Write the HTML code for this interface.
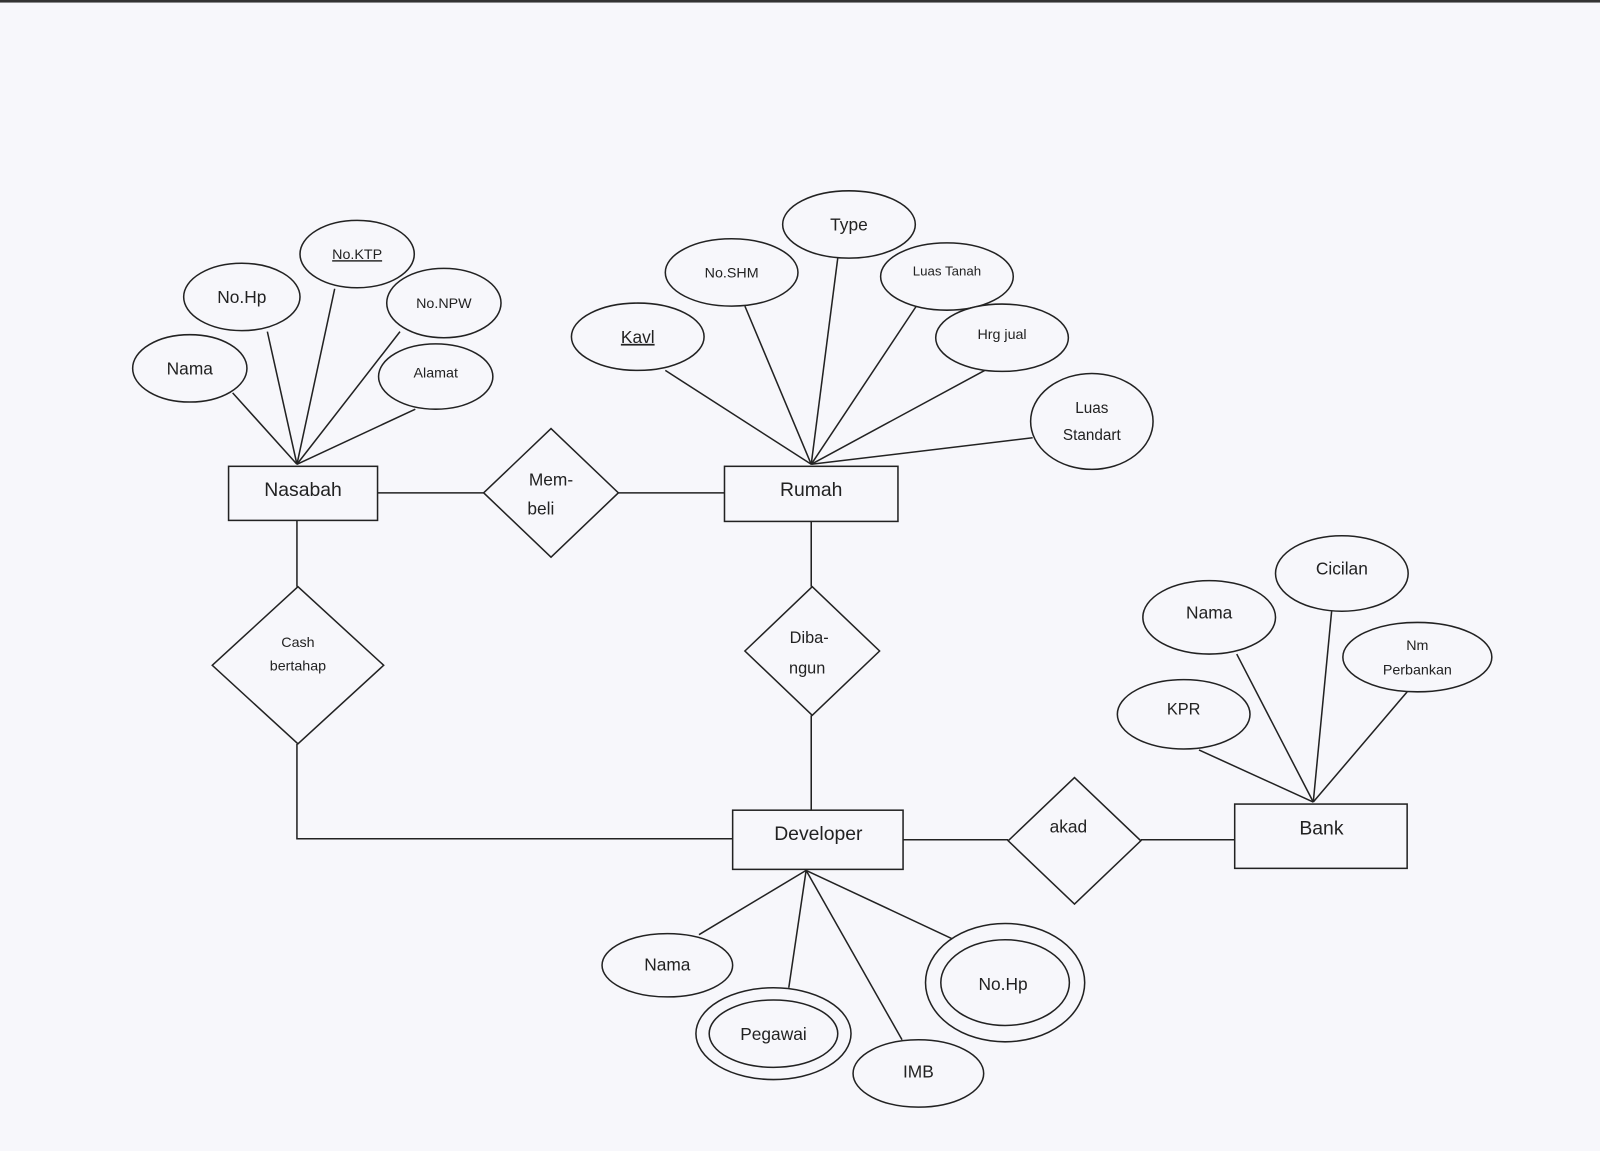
<!DOCTYPE html>
<html><head><meta charset="utf-8"><style>
html,body{margin:0;padding:0;background:#f7f7fb;}
svg{display:block;}
text{font-family:"Liberation Sans",sans-serif;fill:#222;}
</style></head><body>
<svg width="1600" height="1151" viewBox="0 0 1568 1128" preserveAspectRatio="none" xmlns="http://www.w3.org/2000/svg">
<rect x="0" y="0" width="1568" height="1128" fill="#f7f7fb"/>
<rect x="0" y="0" width="1568" height="2.5" fill="#333"/>
<g stroke="#222" stroke-width="1.5" fill="none">
<!-- nasabah attr lines -->
<line x1="291" y1="455" x2="228" y2="385"/>
<line x1="291" y1="455" x2="262" y2="325"/>
<line x1="291" y1="455" x2="328" y2="283"/>
<line x1="291" y1="455" x2="392" y2="325"/>
<line x1="291" y1="455" x2="407" y2="401"/>
<!-- rumah -->
<line x1="795" y1="455" x2="652" y2="363"/>
<line x1="795" y1="455" x2="730" y2="300"/>
<line x1="795" y1="455" x2="821" y2="253"/>
<line x1="795" y1="455" x2="898" y2="300"/>
<line x1="795" y1="455" x2="965" y2="363"/>
<line x1="795" y1="455" x2="1012" y2="429"/>
<!-- bank -->
<line x1="1287" y1="786" x2="1212" y2="641"/>
<line x1="1287" y1="786" x2="1305" y2="599"/>
<line x1="1287" y1="786" x2="1379" y2="678"/>
<line x1="1287" y1="786" x2="1175" y2="735"/>
<!-- developer -->
<line x1="790" y1="853" x2="685" y2="916"/>
<line x1="790" y1="853" x2="773" y2="968"/>
<line x1="790" y1="853" x2="884" y2="1019"/>
<line x1="790" y1="853" x2="946" y2="926"/>
<!-- connectors -->
<line x1="370" y1="483" x2="474" y2="483"/>
<line x1="606" y1="483" x2="710" y2="483"/>
<line x1="291" y1="510" x2="291" y2="575"/>
<polyline points="291,729 291,822 718,822"/>
<line x1="795" y1="511" x2="795" y2="575"/>
<line x1="795" y1="701" x2="795" y2="794"/>
<line x1="885" y1="823" x2="988" y2="823"/>
<line x1="1118" y1="823" x2="1210" y2="823"/>
</g>
<g stroke="#222" stroke-width="1.5" fill="#f7f7fb">
<rect x="224" y="457" width="146" height="53"/>
<rect x="710" y="457" width="170" height="54"/>
<rect x="718" y="794" width="167" height="58"/>
<rect x="1210" y="788" width="169" height="63"/>
<polygon points="474,483 540,420 606,483 540,546"/>
<polygon points="208,652 292,575 376,652 292,729"/>
<polygon points="730,638 796,575 862,638 796,701"/>
<polygon points="988,824 1053,762 1118,824 1053,886"/>
<ellipse cx="186" cy="361" rx="56" ry="33"/>
<ellipse cx="237" cy="291" rx="57" ry="33"/>
<ellipse cx="350" cy="249" rx="56" ry="33"/>
<ellipse cx="435" cy="297" rx="56" ry="34"/>
<ellipse cx="427" cy="369" rx="56" ry="32"/>
<ellipse cx="625" cy="330" rx="65" ry="33"/>
<ellipse cx="717" cy="267" rx="65" ry="33"/>
<ellipse cx="832" cy="220" rx="65" ry="33"/>
<ellipse cx="928" cy="271" rx="65" ry="33"/>
<ellipse cx="982" cy="331" rx="65" ry="33"/>
<ellipse cx="1070" cy="413" rx="60" ry="47"/>
<ellipse cx="1185" cy="605" rx="65" ry="36"/>
<ellipse cx="1315" cy="562" rx="65" ry="37"/>
<ellipse cx="1389" cy="644" rx="73" ry="34"/>
<ellipse cx="1160" cy="700" rx="65" ry="34"/>
<ellipse cx="654" cy="946" rx="64" ry="31"/>
<ellipse cx="758" cy="1013" rx="76" ry="45"/>
<ellipse cx="758" cy="1013" rx="63" ry="33"/>
<ellipse cx="900" cy="1052" rx="64" ry="33"/>
<ellipse cx="985" cy="963" rx="78" ry="58"/>
<ellipse cx="985" cy="963" rx="63" ry="42"/>
</g>
<g text-anchor="middle">
<text x="297" y="486" font-size="19">Nasabah</text>
<text x="795" y="486" font-size="19">Rumah</text>
<text x="802" y="823" font-size="19">Developer</text>
<text x="1295" y="818" font-size="19">Bank</text>
<text x="540" y="476" font-size="17">Mem-</text>
<text x="530" y="504" font-size="17">beli</text>
<text x="292" y="634" font-size="14">Cash</text>
<text x="292" y="657" font-size="14">bertahap</text>
<text x="793" y="630" font-size="16">Diba-</text>
<text x="791" y="660" font-size="16">ngun</text>
<text x="1047" y="816" font-size="17">akad</text>
<text x="186" y="367" font-size="17">Nama</text>
<text x="237" y="297" font-size="17">No.Hp</text>
<text x="350" y="254" font-size="14" text-decoration="underline">No.KTP</text>
<text x="435" y="302" font-size="14">No.NPW</text>
<text x="427" y="370" font-size="14">Alamat</text>
<text x="625" y="336" font-size="17" text-decoration="underline">Kavl</text>
<text x="717" y="272" font-size="14">No.SHM</text>
<text x="832" y="226" font-size="17">Type</text>
<text x="928" y="270" font-size="13">Luas Tanah</text>
<text x="982" y="332" font-size="14">Hrg jual</text>
<text x="1070" y="405" font-size="15">Luas</text>
<text x="1070" y="431" font-size="15">Standart</text>
<text x="1185" y="606" font-size="17">Nama</text>
<text x="1315" y="563" font-size="17">Cicilan</text>
<text x="1389" y="637" font-size="14">Nm</text>
<text x="1389" y="661" font-size="14">Perbankan</text>
<text x="1160" y="700" font-size="16">KPR</text>
<text x="654" y="951" font-size="17">Nama</text>
<text x="758" y="1019" font-size="17">Pegawai</text>
<text x="900" y="1056" font-size="17">IMB</text>
<text x="983" y="970" font-size="17">No.Hp</text>
</g>
</svg>
</body></html>
